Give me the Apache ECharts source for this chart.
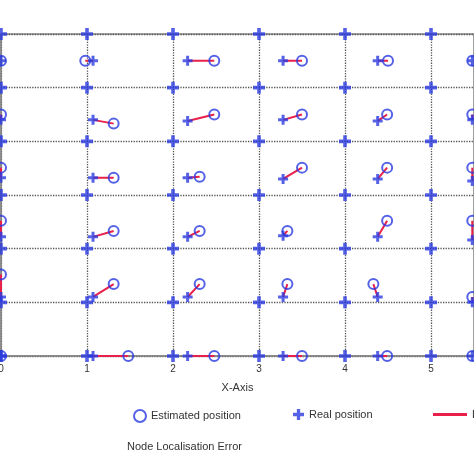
<!DOCTYPE html>
<html><head><meta charset="utf-8">
<script src="https://cdn.jsdelivr.net/npm/echarts@6/dist/echarts.min.js"></script>
<style>html,body{margin:0;padding:0;background:#fff}#c{width:474px;height:474px}</style>
</head><body><div id="c"></div>
<script>
const xTicks = [0,1,2,3,4,5];
const yTicks = [0,1,2,3,4,5,6];
const realPos = [
 [0,5.5],[1.07,5.5],[2.17,5.5],[3.28,5.5],[4.38,5.5],[5.48,5.5],
 [0,4.4],[1.07,4.4],[2.17,4.38],[3.28,4.4],[4.38,4.38],[5.48,4.4],
 [0,3.32],[1.07,3.32],[2.17,3.32],[3.28,3.3],[4.38,3.3],[5.48,3.26],
 [0,2.22],[1.07,2.22],[2.17,2.22],[3.28,2.24],[4.38,2.22],[5.48,2.16],
 [0,1.1],[1.07,1.1],[2.17,1.1],[3.28,1.1],[4.38,1.1],[5.48,1.0],
 [0,0],[1.07,0],[2.17,0],[3.28,0],[4.38,0],[5.48,0]
];
const estPos = [
 [0,5.5],[0.98,5.5],[2.48,5.5],[3.5,5.5],[4.5,5.5],[5.48,5.5],
 [0,4.5],[1.31,4.33],[2.48,4.5],[3.5,4.5],[4.49,4.5],[5.48,4.5],
 [0,3.51],[1.31,3.32],[2.31,3.34],[3.5,3.51],[4.49,3.51],[5.48,3.51],
 [0,2.52],[1.31,2.33],[2.31,2.33],[3.33,2.33],[4.49,2.52],[5.48,2.52],
 [0,1.52],[1.31,1.34],[2.31,1.34],[3.33,1.34],[4.33,1.34],[5.48,1.1],
 [0,0],[1.48,0],[2.48,0],[3.5,0],[4.49,0],[5.48,0]
];
const anchors = [];
xTicks.forEach(x => yTicks.forEach(y => anchors.push([x,y])));
const errLines = [];
realPos.forEach((p,i) => { errLines.push(p, estPos[i], [null,null]); });
const blue = '#2b3be0', red = '#e8204a';
const plus = 'path://M3.5,0H6.5V3.5H10V6.5H6.5V10H3.5V6.5H0V3.5H3.5Z';
const ts = {color:'#333',fontSize:11,fontFamily:'Arial'};
const chart = echarts.init(document.getElementById('c'));
chart.setOption({
 animation:false,
 grid:{left:1,right:0,top:34,bottom:118,show:true,borderColor:'#888',borderWidth:1.5,containLabel:false,outerBoundsMode:'none'},
 xAxis:{type:'value',min:0,max:5.5,interval:1,name:'X-Axis',nameLocation:'middle',nameGap:26,
  nameTextStyle:ts,
  axisLine:{lineStyle:{color:'#888',width:1.5}},axisTick:{show:false},
  axisLabel:{color:'#333',fontSize:10,showMaxLabel:false,margin:8},
  splitLine:{show:true,lineStyle:{type:'dotted',color:'#555',width:1.3}}},
 yAxis:{type:'value',min:0,max:6,interval:1,axisLabel:{show:false},axisTick:{show:false},
  axisLine:{show:true,lineStyle:{color:'#888',width:1.5}},
  splitLine:{show:true,lineStyle:{type:'dotted',color:'#555',width:1.3}}},
 legend:[
  {left:128,top:404,itemWidth:12,itemHeight:12,textStyle:ts,data:[{name:'Estimated position',icon:'circle'}]},
  {left:288,top:404,itemWidth:11,itemHeight:11,textStyle:ts,data:[{name:'Real position',icon:plus}]},
  {left:428,top:404,itemWidth:34,itemHeight:3,textStyle:ts,data:[{name:'Localisation error',icon:'rect'}]}
 ],
 title:{text:'Node Localisation Error',left:122,top:436,textStyle:{color:'#333',fontSize:11,fontWeight:'normal',fontFamily:'Arial'}},
 series:[
  {name:'Localisation error',type:'line',data:errLines,connectNulls:false,showSymbol:false,symbol:'none',
   lineStyle:{color:red,width:2},itemStyle:{color:red},z:3},
  {name:'anchors',type:'scatter',data:anchors,symbol:plus,symbolSize:12,itemStyle:{color:blue},z:4},
  {name:'Real position',type:'scatter',data:realPos,symbol:plus,symbolSize:10,itemStyle:{color:blue},z:5},
  {name:'Estimated position',type:'scatter',data:estPos,symbol:'circle',symbolSize:10,
   itemStyle:{color:'rgba(0,0,0,0)',borderColor:blue,borderWidth:2},z:6}
 ]
});
</script></body></html>
